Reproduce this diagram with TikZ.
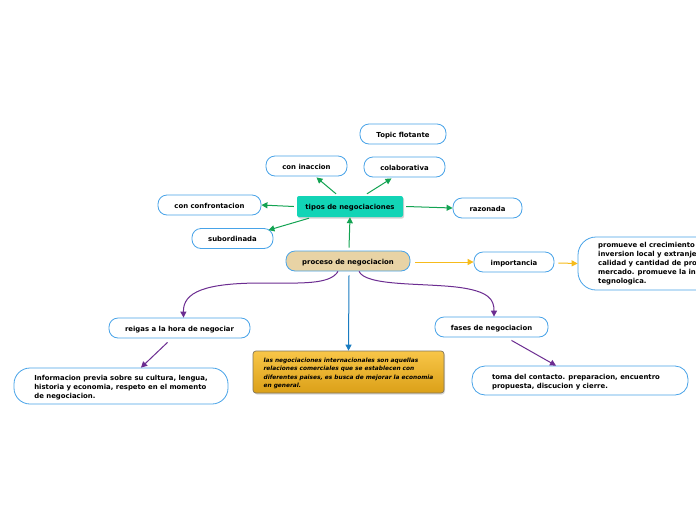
\documentclass[tikz,border=0pt]{standalone}
\usepackage{fontspec}
\setmainfont{DejaVu Sans}
\usetikzlibrary{arrows.meta,shadows,calc}
\definecolor{bord}{RGB}{72,163,232}
\definecolor{garr}{RGB}{18,163,82}
\definecolor{oarr}{RGB}{246,187,27}
\definecolor{parr}{RGB}{108,45,145}
\definecolor{barr}{RGB}{26,124,193}
\definecolor{teal}{RGB}{18,212,182}
\definecolor{tan}{RGB}{232,211,165}
\definecolor{otop}{RGB}{248,198,72}
\definecolor{obot}{RGB}{219,160,24}
\definecolor{ogray}{RGB}{130,118,90}
\tikzset{
  lbl/.style={font=\fontsize{6.9}{9}\selectfont\bfseries},
  one/.style={lbl, text height=6pt, text depth=0pt},
  pill/.style={one, draw=bord, line width=0.8pt, fill=white, rounded corners=9pt, minimum height=20pt, inner sep=2pt},
  bigbox/.style={draw=bord, line width=0.8pt, fill=white},
  bigtext/.style={lbl, align=left, inner sep=0pt},
  garrow/.style={draw=garr, line width=1pt, -{Triangle[length=6pt,width=6pt]}},
  oarrow/.style={draw=oarr, line width=1pt, -{Triangle[length=6pt,width=6pt]}},
  parrow/.style={draw=parr, line width=1pt, -{Triangle[length=6pt,width=6pt]}},
  barrow/.style={draw=barr, line width=1pt, -{Triangle[length=6pt,width=6pt]}},
}
\begin{document}
\begin{tikzpicture}[x=1pt,y=-1pt]
\useasboundingbox (0,0) rectangle (696,520);
\clip (0,0) rectangle (696,520);
\fill[white] (0,0) rectangle (696,520);

% nodes
\node[pill, minimum width=86pt] (topic) at (403,134) {Topic flotante};
\node[pill, minimum width=81pt] (inac) at (306.5,166) {con inaccion};
\node[pill, minimum width=81pt] (colab) at (404.5,167) {colaborativa};
\node[pill, minimum width=103pt] (confr) at (209.5,205) {con confrontacion};
\node[one, fill=teal, rounded corners=2pt, minimum width=106pt, minimum height=21pt, inner sep=2pt,
      drop shadow={opacity=0.35, shadow xshift=1pt, shadow yshift=-1.5pt}] (tipos) at (350,206.5) {tipos de negociaciones};
\node[pill, minimum width=69pt] (razon) at (487.5,208) {razonada};
\node[pill, minimum width=81pt] (subor) at (232.5,238.5) {subordinada};
\node[pill, fill=tan, minimum width=124pt] (proceso) at (348,261) {proceso de negociacion};
\node[pill, minimum width=80pt] (impor) at (514,262) {importancia};

\node[bigbox, rounded corners=18pt, minimum width=200pt, minimum height=53pt] (promueve) at (678,263.5) {};
\node[bigtext, anchor=north west] (promuevet) at (598,242.5)
  {promueve el crecimiento de la\\inversion local y extranjera,\\calidad y cantidad de productos en el\\mercado. promueve la innovacion\\tegnologica.};

\node[pill, minimum width=141pt] (reigas) at (179.5,328) {reigas a la hora de negociar};
\node[pill, minimum width=113pt] (fases) at (491.5,327) {fases de negociacion};

\node[draw=ogray, line width=0.7pt, top color=otop, bottom color=obot, rounded corners=3pt,
      minimum width=191pt, minimum height=42pt,
      drop shadow={opacity=0.3, shadow xshift=1pt, shadow yshift=-1.5pt}] (lasneg) at (348.5,372) {};
\node[font=\fontsize{5.85}{8.3}\selectfont\bfseries\itshape, align=left, inner sep=0pt] (lasnegt) at ($(lasneg.center)+(0,1.5)$)
  {las negociaciones internacionales son aquellas\\relaciones comerciales que se establecen con\\diferentes paises, es busca de mejorar la economia\\en general.};

\node[bigbox, rounded corners=16pt, minimum width=214pt, minimum height=36pt] (info) at (121,386) {};
\node[bigtext] (infot) at ($(info.center)+(0,2)$)
  {Informacion previa sobre su cultura, lengua,\\historia y economia, respeto en el momento\\de negociacion.};

\node[bigbox, rounded corners=13pt, minimum width=216pt, minimum height=29pt] (toma) at (580,380.5) {};
\node[bigtext] (tomat) at ($(toma.center)+(-4,2)$)
  {toma del contacto. preparacion, encuentro\\propuesta, discucion y cierre.};

% connectors
\draw[garrow] ($(tipos.north)+(-14,-2)$) -- ($(inac.south)+(10,1)$);
\draw[garrow] ($(tipos.north)+(17,-2)$) -- ($(colab.south)+(-13,1)$);
\draw[garrow] ($(tipos.west)+(-3,0)$) -- (confr.east);
\draw[garrow] ($(tipos.east)+(3,0)$) -- (razon.west);
\draw[garrow] ($(tipos.south)+(-41,1)$) -- ($(subor.north east)+(-5,2)$);
\draw[garrow] ($(proceso.north)+(1,-3)$) -- (tipos.south);
\draw[oarrow] ($(proceso.east)+(5,1)$) -- (impor.west);
\draw[oarrow] ($(impor.east)+(4,1)$) -- (promueve.west);
\draw[parrow] ($(proceso.south)+(-10,0)$) .. controls (330,285) and (300,283) .. (262,283)
   .. controls (205,283) and (183,292) .. ($(reigas.north)+(4,0)$);
\draw[parrow] ($(proceso.south)+(11,0)$) .. controls (366,286) and (420,283) .. (456,287)
   .. controls (490,291) and (494,300) .. ($(fases.north)+(2.5,0)$);
\draw[barrow] ($(proceso.south)+(1,4)$) -- (lasneg.north);
\draw[parrow] ($(reigas.south)+(-12,4)$) -- ($(info.north)+(20,0)$);
\draw[parrow] ($(fases.south)+(20,3)$) -- ($(toma.north)+(-24,0)$);
\end{tikzpicture}
\end{document}
